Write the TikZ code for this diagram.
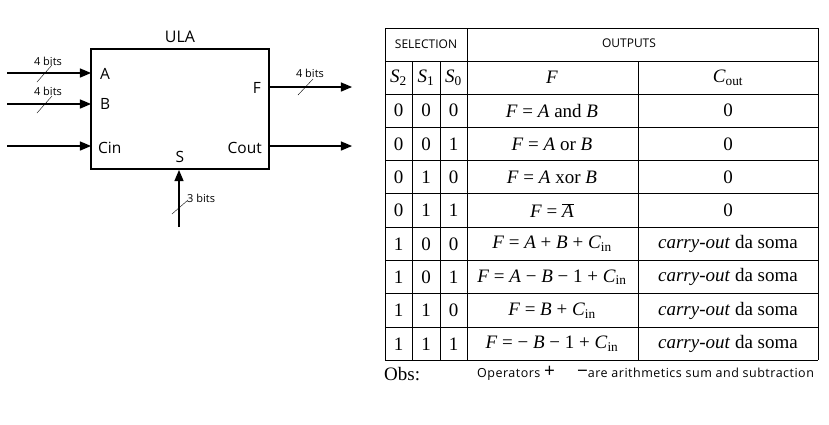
\documentclass[tikz,border=0pt]{standalone}
\usepackage{fontspec}
\setmainfont{Liberation Serif}
\newfontfamily\sansf{Open Sans}
\newfontfamily\sanswide{Open Sans}[LetterSpace=4]
\usetikzlibrary{calc,positioning,arrows}

\newcommand{\iv}[1]{\textit{#1}}
\newcommand{\sub}[1]{\textsubscript{#1}}

\begin{document}
\begin{tikzpicture}[x=1pt,y=-1pt,
  sig/.style={-triangle 45,line width=1.6pt},
  bus/.style={font=\sansf\fontsize{11}{12}\selectfont,inner sep=0pt},
  pin/.style={font=\sansf\fontsize{15.5}{17}\selectfont,inner sep=1pt},
  cell/.style={font=\fontsize{19}{21}\selectfont,inner sep=0pt},
  head/.style={font=\sansf\fontsize{12}{13}\selectfont,inner sep=0pt}]
  \useasboundingbox (0,0) rectangle (829,424);

  % the ALU block
  \draw[line width=1.3pt] (91,49) rectangle (269,169);
  \node[pin,font=\sansf\fontsize{16}{17}\selectfont] (ula) at (180,37) {ULA};
  \coordinate (ina) at (91,73);   \coordinate (ina0) at (7,73);
  \coordinate (inb) at (91,104);  \coordinate (inb0) at (7,104);
  \coordinate (inc) at (91,146);  \coordinate (inc0) at (7,146);
  \coordinate (outf) at (269,87); \coordinate (outf1) at (352,87);
  \coordinate (outc) at (269,146);\coordinate (outc1) at (352,146);
  \coordinate (ins) at (179,170); \coordinate (ins0) at (179,227);
  \draw[sig] (ina0) -- (ina);
  \draw[sig] (inb0) -- (inb);
  \draw[sig] (inc0) -- (inc);
  \draw[sig] (outf) -- (outf1);
  \draw[sig] (outc) -- (outc1);
  \draw[sig] (ins0) -- (ins);
  \node[pin,anchor=west] (la) at (99,74) {A};
  \node[pin,anchor=west] (lb) at (99,104) {B};
  \node[pin,anchor=west] (lc) at (97,148) {Cin};
  \node[pin,anchor=east] (lf) at (262,88) {F};
  \node[pin,anchor=east] (lco) at (263,148) {Cout};
  \node[pin] (ls) at (180,157) {S};
  % bus widths
  \draw (37,82) -- (52,65);  \node[bus] (wa) at (48,61) {4 bits};
  \draw (37,113) -- (52,96); \node[bus] (wb) at (48,91) {4 bits};
  \draw (298,95) -- (313,79); \node[bus] (wf) at (310,73) {4 bits};
  \draw (172,214) -- (188,200); \node[bus,anchor=west] (ws) at (187,198) {3 bits};

  % truth table
  \foreach \x in {385,467,818} \draw[line width=0.9pt] (\x,28) -- (\x,360.4);
  \foreach \x in {412,440,638} \draw[line width=0.9pt] (\x,61) -- (\x,360.4);
  \foreach \y in {28,61,94,127.3,160.6,193.9,227.2,260.5,293.8,327.1,360.4}
    \draw[line width=0.9pt] (385,\y) -- (818,\y);
  \node[head] (hsel) at (426,44.5) {SELECTION};
  \node[head] (hout) at (629,43) {OUTPUTS};
  \node[cell] (hs2) at (398.5,77.5) {\iv{S}\sub{2}};
  \node[cell] (hs1) at (426,77.5) {\iv{S}\sub{1}};
  \node[cell] (hs0) at (453.5,77.5) {\iv{S}\sub{0}};
  \node[cell] (hf) at (552,77.5) {\iv{F}};
  \node[cell] (hc) at (728,77.5) {\iv{C}\sub{out}};
  \foreach \a/\b/\c/\f/\co [count=\i] in {
    0/0/0/{\iv{F} = \iv{A} and \iv{B}}/0,
    0/0/1/{\iv{F} = \iv{A} or \iv{B}}/0,
    0/1/0/{\iv{F} = \iv{A} xor \iv{B}}/0,
    0/1/1/{\iv{F} = $\overline{\mbox{\iv{A}}}$}/0,
    1/0/0/{\iv{F} = \iv{A} + \iv{B} + \iv{C}\sub{in}}/{\iv{carry-out} da soma},
    1/0/1/{\iv{F} = \iv{A} − \iv{B} − 1 + \iv{C}\sub{in}}/{\iv{carry-out} da soma},
    1/1/0/{\iv{F} = \iv{B} + \iv{C}\sub{in}}/{\iv{carry-out} da soma},
    1/1/1/{\iv{F} = − \iv{B} − 1 + \iv{C}\sub{in}}/{\iv{carry-out} da soma}} {
    \pgfmathsetmacro{\yy}{94+33.3*\i-16.6}
    \node[cell] (s2r\i) at (398.5,\yy) {\a};
    \node[cell] (s1r\i) at (426,\yy) {\b};
    \node[cell] (s0r\i) at (453.5,\yy) {\c};
    \node[cell] (fr\i) at (552,\yy) {\f};
    \node[cell] (cr\i) at (728,\yy) {\co};
  }
  \node[cell,anchor=west] (obs) at (384,374) {Obs:};
  \node[head,anchor=west,font=\sanswide\fontsize{12.5}{13}\selectfont] (ops) at (477,373)
    {Operators {\fontsize{19}{19}\selectfont +}\hspace{22pt}{\fontsize{19}{19}\selectfont −}are arithmetics sum and subtraction};
\end{tikzpicture}
\end{document}
